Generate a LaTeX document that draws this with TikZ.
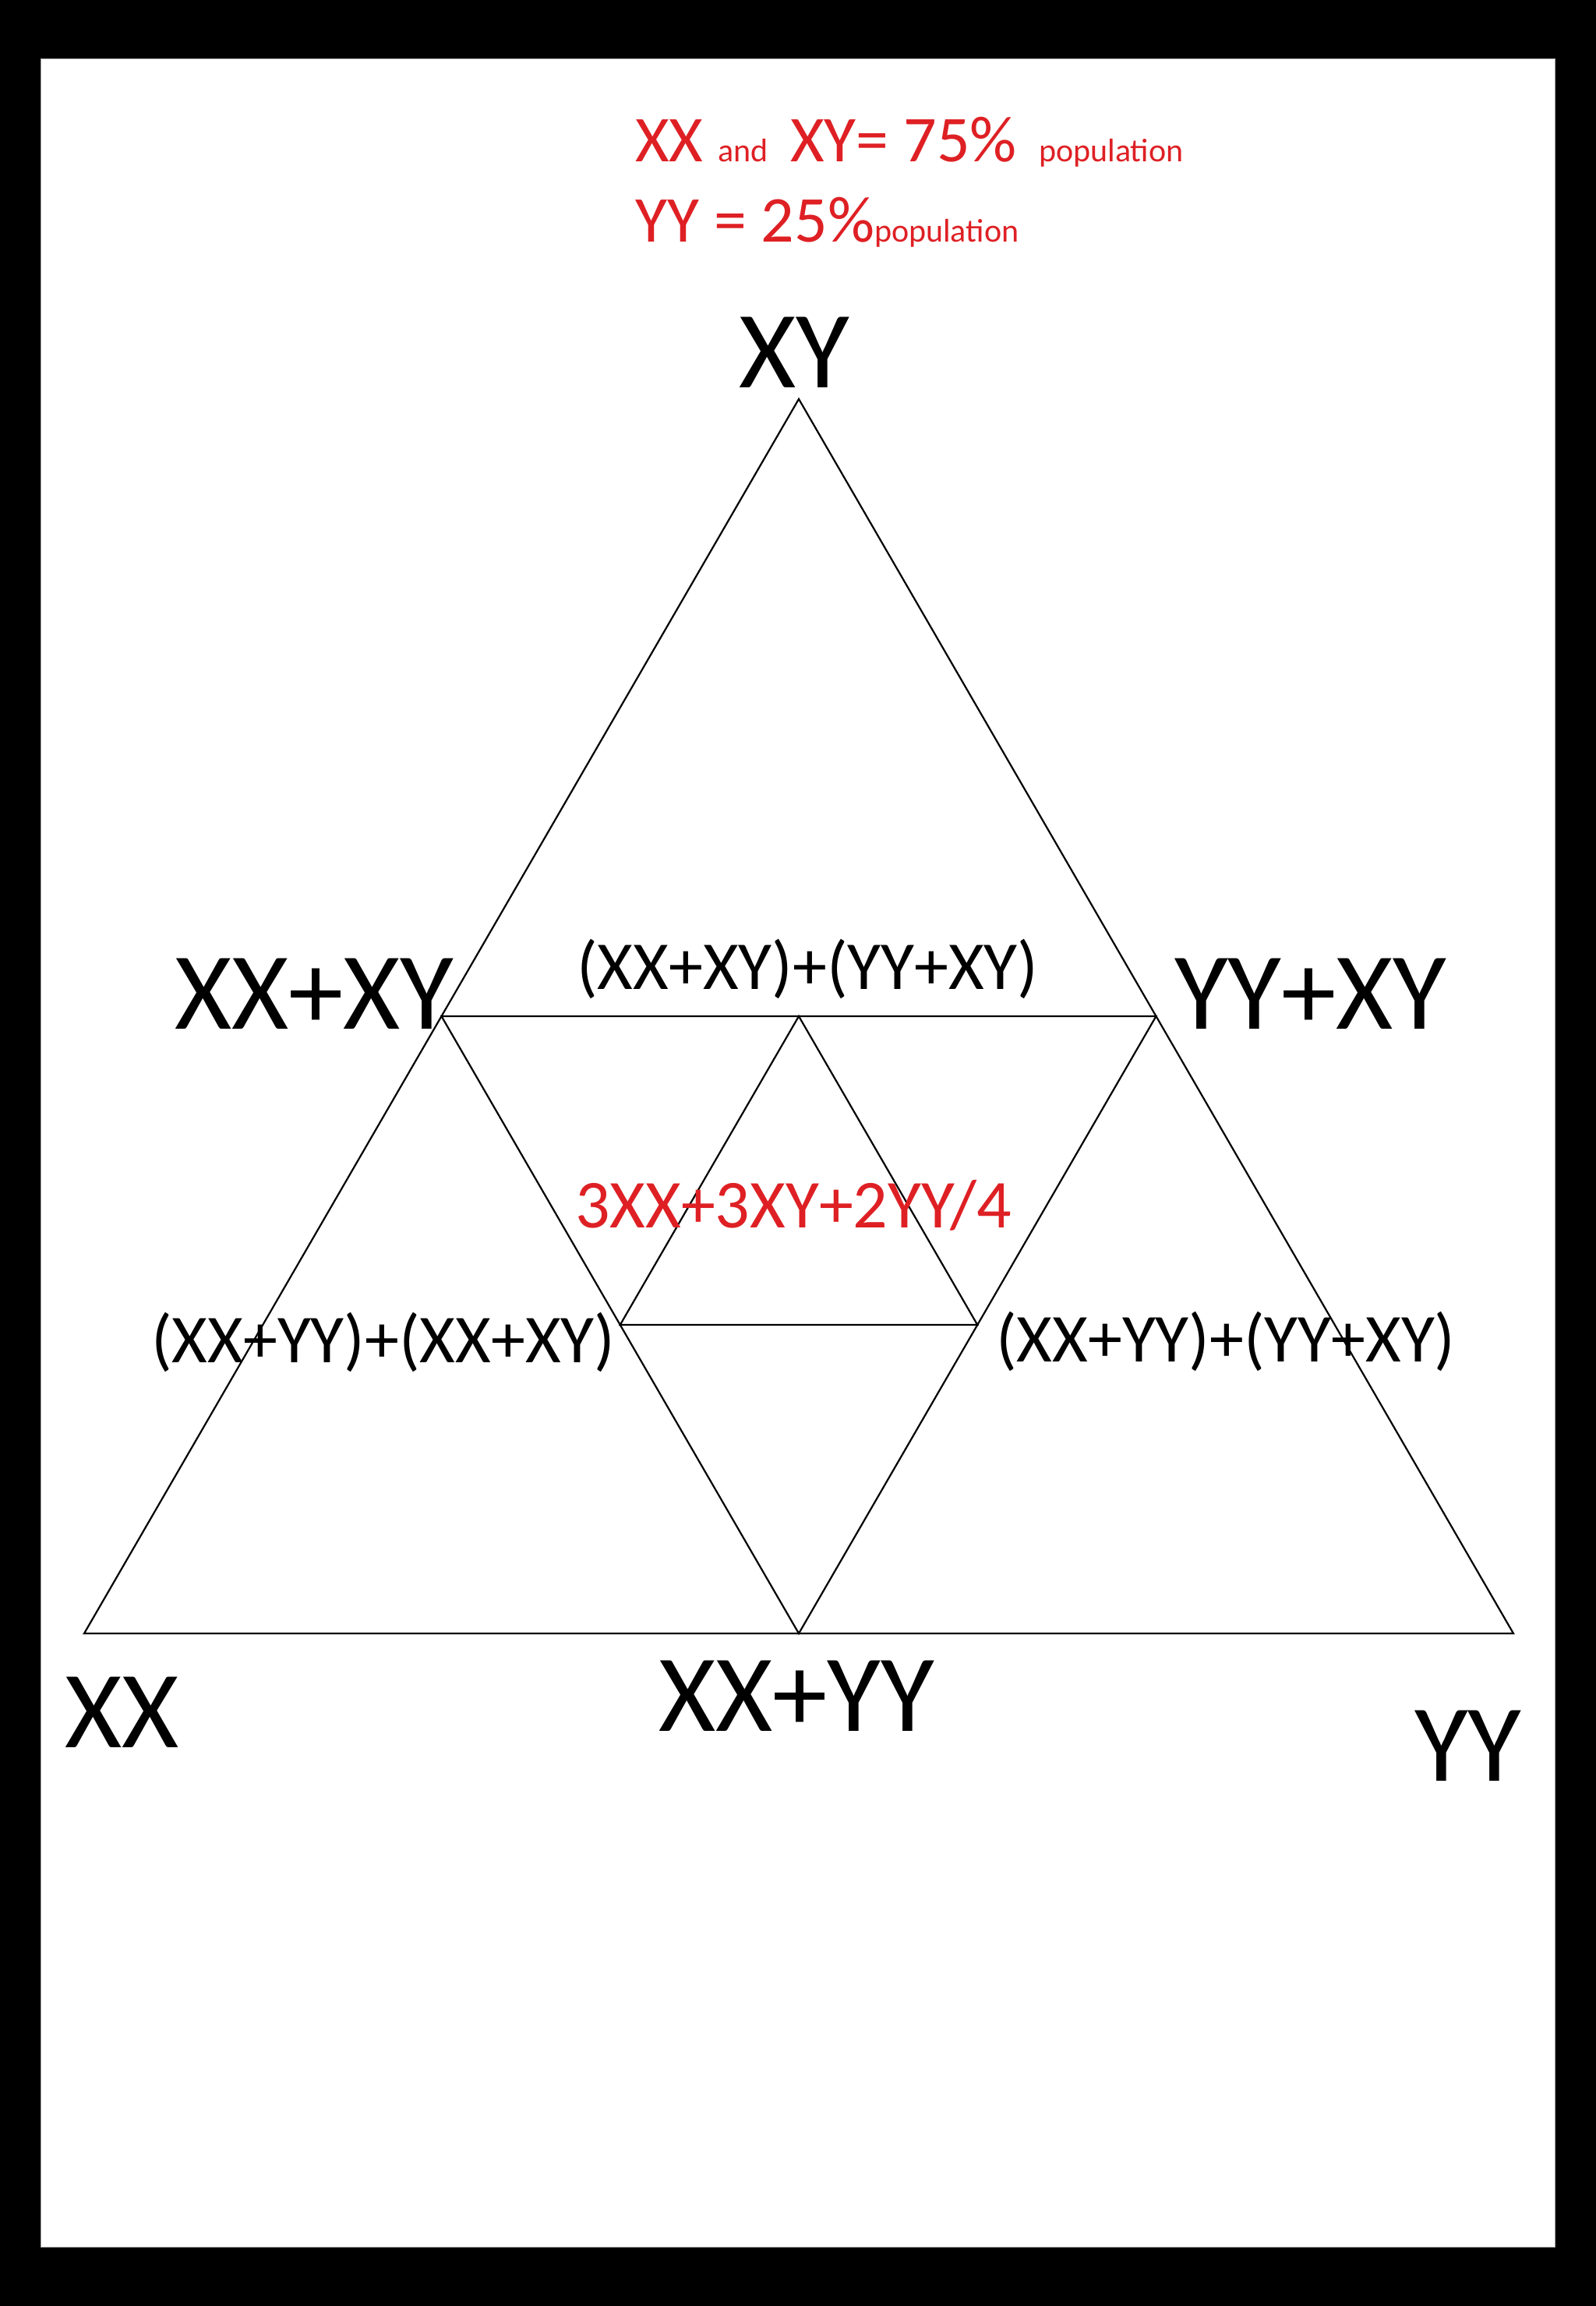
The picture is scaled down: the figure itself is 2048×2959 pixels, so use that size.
\documentclass[tikz,border=0pt]{standalone}
\usepackage{fontspec}
\setmainfont{Carlito}
\usetikzlibrary{calc}
\definecolor{labred}{RGB}{222,32,36}
\tikzset{
  edge/.style={draw=black, line width=2.2pt, line join=miter},
  big/.style={inner sep=0pt, anchor=base west, font=\fontsize{141}{168}\selectfont},
  mid/.style={inner sep=0pt, anchor=base west, font=\fontsize{88}{104}\selectfont},
  note/.style={inner sep=0pt, anchor=base west, text=labred}
}
\newcommand{\notelarge}{\fontsize{84}{100}\selectfont}
\newcommand{\notesmall}{\fontsize{42}{50}\selectfont}
\begin{document}
\begin{tikzpicture}[x=1pt, y=-1pt]
\useasboundingbox (0,0) rectangle (2048,2959);
\fill[black] (0,0) rectangle (2048,2959);
\fill[white] (52,75) rectangle (1995,2883);
\draw[gray!70, line width=1pt] (52,75) rectangle (1995,2883);

% outer triangle
\coordinate (A) at (1025,512);
\coordinate (B) at (108,2096);
\coordinate (C) at (1942,2096);
% midpoints
\coordinate (AB) at ($ (A)!0.5!(B) $);
\coordinate (AC) at ($ (A)!0.5!(C) $);
\coordinate (BC) at ($ (B)!0.5!(C) $);
% inner triangle
\coordinate (IL) at ($ (AB)!0.5!(BC) $);
\coordinate (IR) at ($ (AC)!0.5!(BC) $);
\coordinate (IT) at ($ (AB)!0.5!(AC) $);

\draw[edge] (A) -- (B) -- (C) -- cycle;
\draw[edge] (AB) -- (AC) -- (BC) -- cycle;
\draw[edge] (IT) -- (IL) -- (IR) -- cycle;

% red notes
\node[note] (n1) at (815,207) {\notelarge XX \notesmall and \notelarge\ XY= 75\% \notesmall\ population};
\node[note] (n2) at (815,310) {\notelarge YY = 25\%\notesmall population};

% vertex labels
\node[big] (lXY) at (948,497) {XY};
\node[big] (lXXXY) at (224,1320) {XX+XY};
\node[big] (lYYXY) at (1507,1320) {YY+XY};
\node[big] (lXX) at (83,2242) {XX};
\node[big] (lXXYY) at (845,2221) {XX+YY};
\node[big] (lYY) at (1815,2285) {YY};

% region labels
\node[mid] (rTop) at (740,1269) {(XX+XY)+(YY+XY)};
\node[mid] (rLeft) at (194,1748) {(XX+YY)+(XX+XY)};
\node[mid] (rRight) at (1278,1747) {(XX+YY)+(YY+XY)};
\node[mid, text=labred] (rMid) at (738,1575) {3XX+3XY+2YY/4};
\end{tikzpicture}
\end{document}
